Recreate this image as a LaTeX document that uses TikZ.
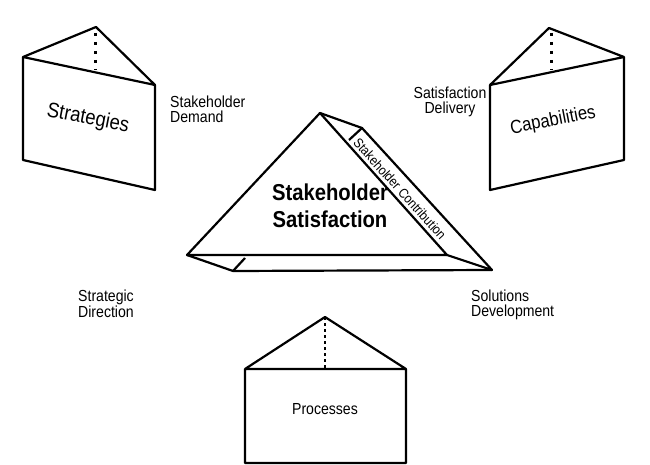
\documentclass[tikz,border=0pt]{standalone}
\usepackage{fontspec}
\setmainfont{Liberation Sans}[FakeStretch=0.88]
\begin{document}
\begin{tikzpicture}[x=1pt,y=-1pt,line join=round,
  edge/.style={line width=2.2pt},
  dots/.style={line width=3pt,dash pattern=on 3pt off 6pt},
  lbl/.style={font=\fontsize{16}{14.5}\selectfont,align=left,inner sep=0pt}]
\useasboundingbox (0,0) rectangle (650,465);
% Strategies
\coordinate (sA) at (96,27); \coordinate (sL) at (23,57); \coordinate (sR) at (155,85);
\coordinate (sLB) at (23,160); \coordinate (sRB) at (155,190);
\draw[edge] (sL) -- (sA) -- (sR) -- (sL) -- (sLB) -- (sRB) -- (sR);
\draw[dots] (95,33) -- (95,70);
\node[rotate=-11,font=\fontsize{21}{20}\selectfont] (strat) at (88,119) {Strategies};
% Capabilities
\coordinate (cA) at (549,28); \coordinate (cL) at (490,85); \coordinate (cR) at (624,57);
\coordinate (cLB) at (490,190); \coordinate (cRB) at (624,160);
\draw[edge] (cL) -- (cA) -- (cR) -- (cL) -- (cLB) -- (cRB) -- (cR);
\draw[dots] (551,33) -- (551,70);
\node[rotate=11,font=\fontsize{19}{20}\selectfont] (cap) at (553,121) {Capabilities};
% Processes
\coordinate (pA) at (325,317); \coordinate (pL) at (245,369); \coordinate (pR) at (406,369);
\draw[edge] (pL) -- (pA) -- (pR) -- (pL) -- (245,463) -- (406,463) -- (pR);
\draw[line width=1.6pt,dashed] (pA) -- (325,369);
\node[font=\fontsize{16}{16}\selectfont] (proc) at (325,409) {Processes};
% Central triangle
\coordinate (tA) at (320,113); \coordinate (tL) at (187,255); \coordinate (tR) at (447,255);
\coordinate (bT) at (362,128); \coordinate (bR) at (492,270); \coordinate (bL) at (233,271);
\draw[edge] (tA) -- (tL) -- (tR) -- cycle;
\draw[edge] (tA) -- (bT) -- (bR) -- (tR);
\draw[edge] (bT) -- (349,140);
\draw[edge] (tL) -- (bL) -- (bR);
\draw[edge] (bL) -- (245,258);
\node[font=\bfseries\fontsize{23}{27}\selectfont,align=center] (sat) at (330,206) {Stakeholder\\Satisfaction};
\node[rotate=-48,font=\fontsize{13.5}{14}\selectfont] (contrib) at (400,189) {Stakeholder Contribution};
% Labels
\node[lbl,anchor=north west] (dem) at (170,96) {Stakeholder\\Demand};
\node[lbl,anchor=north,align=center] (del) at (450,87) {Satisfaction\\Delivery};
\node[lbl,anchor=north west] (dir) at (78,290) {Strategic\\Direction};
\node[lbl,anchor=north west] (dev) at (471,290) {Solutions\\Development};
\end{tikzpicture}
\end{document}
